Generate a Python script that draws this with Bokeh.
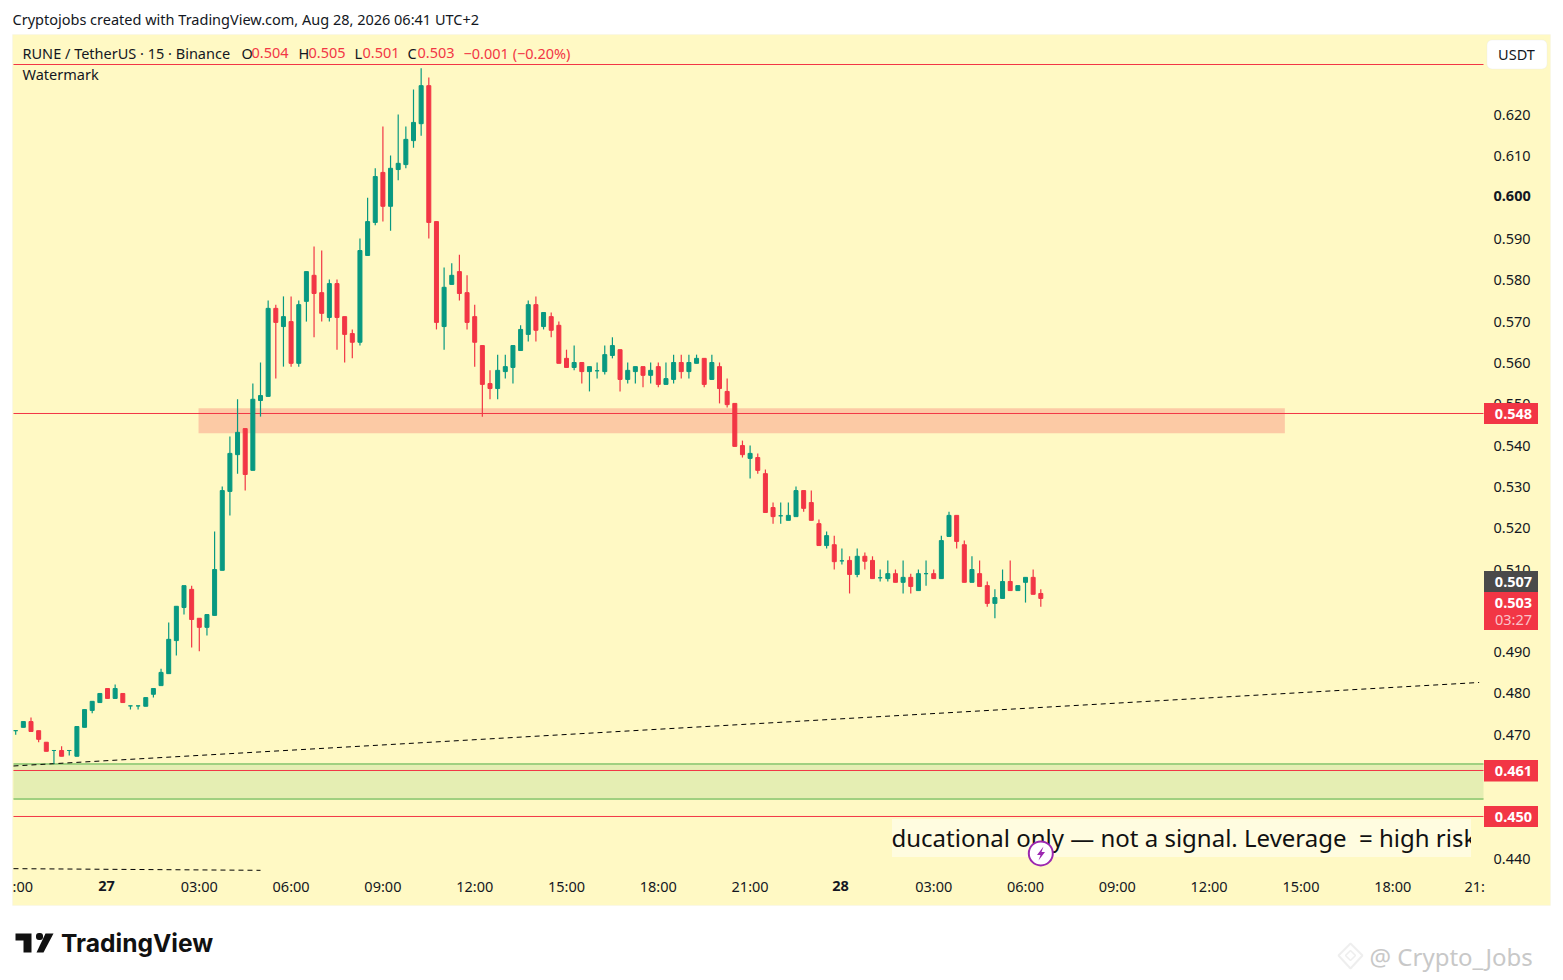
import numpy as np
from bokeh.plotting import figure
from bokeh.models import BoxAnnotation, Label, FixedTicker, Range1d, PolyAnnotation, LinearAxis
from bokeh.embed import file_html
from bokeh.resources import INLINE

first_bar = -12
opens = [471,471.8,473.2,471,468.2,466.2,466.2,466.2,464.8,471.8,
475.9,477.8,481.2,478.8,480,477,477,476.9,479.8,481.9,
484.8,492.8,500.8,505.2,498.2,496,498.9,509.8,528.9,537.8,
544.1,534,550.9,551.9,573.2,568.8,570,559.9,574.9,581.2,
577,571,579.2,571.2,567.1,565,586,594,606.1,597.9,
606.8,608,613.8,617.9,627.1,594.2,568.8,579,582.1,577,
571.2,564.2,555,553.8,557.9,558.9,563,566.9,574.1,568.8,
571.2,569.1,561.1,558.9,560.1,557.9,558.1,557.9,561.8,563.2,
556,557.9,559.1,557,559.1,554.8,556,560.1,557.9,559.9,
561.1,556,559.1,553.1,550.2,540,536.9,537.1,533.2,525,
523,521.9,522.8,529.1,526.2,521.1,515.8,516,512.1,512.2,
508.8,513.2,512.2,508,507.8,509,506.9,508.1,504.9,509,
509,507.8,518,523.1,516,506.9,509,506.1,501.8,503,
507.1,504.9,506.9,508.1,504.2]
closes = [471,473.2,470.8,468.9,466,466.2,464.8,466.2,472,476.1,
478.1,480,478.8,481.2,477.8,477,477,479,481.2,485.1,
493.1,501.1,506.1,497.9,496,499.1,510,529.1,538.1,543.2,
533,551.2,552.1,573.2,569.8,571.2,559.9,574.1,582.1,576.8,
572,579.2,571,566.9,565,587.2,594.2,605.1,597.9,607.1,
608.3,614.1,618.2,627.1,594,569.8,578.3,581.2,576.8,569.8,
565,554.8,553.8,558.2,559.1,564.2,568.1,574.1,567.9,572.2,
567.9,559.9,558.9,560.1,557.9,559.1,558.1,562,564.2,556,
558.2,559.1,557,558.2,554.8,556.2,560.1,557.9,560.1,561.1,
554.8,560.1,553.8,549.9,539.8,537.8,538.1,534,523.8,522.8,
523,523.1,529.1,524.8,521.9,515.8,518.2,511.9,512.1,508.8,
513.2,512,507.8,508,509,506.9,508.1,505.9,509,509,
507.8,517,523.1,516.8,506.9,510,505.9,501.8,503.2,507.1,
504.9,506.1,508.1,504,503]
highs = [471,473.2,474.2,471,468.2,466.2,467.2,466.2,472,476.1,
478.1,480,481.2,482.2,480,477,477,479,481.2,486,
497.2,501.1,506.1,506.1,498.2,499.1,519.2,530.1,542.2,551.2,
544.1,555,560.1,575.1,574.1,576.1,576.1,575.1,582.1,588.2,
587.2,580.2,580.2,571.2,568.1,590.1,600,607.1,617.2,610.2,
620.1,617.2,626.2,631.3,629.1,594.2,583.1,584.1,586.2,581.2,
574.1,564.2,558.2,562,562,564.2,569.1,575.1,576.1,572.2,
572.2,570,563.2,564.2,560.1,559.1,560.1,564.2,566.2,563.2,
560.1,559.1,559.1,560.1,560.1,560.1,562,562,562,562,
561.1,562,560.1,556.2,550.2,541.2,540,538.1,534.2,526.2,
526.2,526.2,530.1,529.1,529.1,522.1,519.2,518.2,515.1,513.2,
515.1,514.1,513.2,510,512.2,510,512.2,509,510,512.2,
510,518.2,524,523.1,517,513.2,512.2,507.1,505.2,510,
512.2,506.1,508.1,510,505.2]
lows = [470,471.8,470.8,468.2,466,463,464.8,465,464.8,471.8,
475.2,477.8,478.8,478.8,477.8,476.1,476.1,476.9,479,481.9,
484.8,489.2,499.1,491.1,490.2,494,498.9,509.8,523.1,533.2,
529.1,534,547,551.9,556.2,559.1,559.1,559.1,570,566.2,
570,570,563.2,560.1,561.1,564.2,586,593.3,594.2,592,
604.2,607.1,612.1,615,590.1,568.1,563.2,579,575.1,568.1,
559.1,547,551.2,551.2,556.2,555,563,565.2,565.2,568.1,
566.2,559.9,558.9,558.2,555,553.1,556.2,557.2,561.1,553.1,
555,555,554.1,555,554.1,554.8,555,556.2,556.2,559.9,
554.1,556,550.2,549.2,539.8,537.1,532,533.2,523.8,521.1,
521.1,521.9,522.8,524,521.9,515.8,515.1,510,511.2,504.2,
508.1,510,507.8,507.1,507.1,506.9,504.2,504.2,504.9,506.1,
507.8,507.8,518,515.1,506.9,506.9,505.9,501,498.2,503,
504.9,504.9,502,504,501]

price_ticks = [0.44,0.47,0.48,0.49,0.51,0.52,0.53,0.54,0.55,0.56,0.57,0.58,0.59,0.61,0.62]
price_tick_labels = ["0.440","0.470","0.480","0.490","0.510","0.520","0.530","0.540","0.550","0.560","0.570","0.580","0.590","0.610","0.620"]
time_ticks = [12,24,36,48,60,72,84,108,120,132,144,156,168]
time_tick_labels = ["03:00","06:00","09:00","12:00","15:00","18:00","21:00","03:00","06:00","09:00","12:00","15:00","18:00"]
level_prices = [0.63222,0.54776,0.46136,0.45023]
resistance_zone = (0.5430,0.5490)
resistance_bars = (11.9,153.9)
support_zone = (0.45446,0.46294)
trend_bars = [-12.29,179.3]
trend_prices = [0.46245,0.48266]
lower_bars = [-12.29,20.0]
lower_prices = [0.4376,0.4372]
event_bar = 122
event_price = 0.4413

FONT = "Noto Sans"
TICK_SIZE = 14.5
INK = "#131722"
UP = "#089981"
DOWN = "#F23645"
BG = "#FFF9C4"
W, H = 1555, 972
BAR_LEFT, BAR_RIGHT = -12.29, 179.87
AXIS_PRICE = 0.43595

def sy(y): return H - y

p = figure(width=W, height=H, output_backend="svg", toolbar_location=None,
           x_axis_type=None, y_axis_type=None,
           x_range=Range1d(-13.987, 189.28), y_range=Range1d(0.41247, 0.64771),
           min_border_left=0, min_border_right=0, min_border_top=0, min_border_bottom=0,
           background_fill_color="white", border_fill_color="white", outline_line_color=None)
p.grid.visible = False

def cbox(x0, y0, x1, y1, fill, line=None, level="annotation", radius=0):
    b = BoxAnnotation(left=x0-0.5, right=x1-0.5, top=y0-0.5, bottom=y1-0.5,
                      left_units="canvas", right_units="canvas", top_units="canvas", bottom_units="canvas",
                      fill_color=fill, fill_alpha=1.0, line_color=line, level=level, border_radius=radius,
                      editable=False)
    p.add_layout(b)
    return b

def lab(x, y, text, color=INK, size=TICK_SIZE, align="left", weight="normal", font=FONT, level="annotation"):
    l = Label(x=x-1, y=sy(y-1.5), x_units="screen", y_units="screen", text=text, text_color=color,
              text_font=font, text_font_size=f"{size}px", text_font_style=weight,
              text_align=align, text_baseline="middle", level=level)
    p.add_layout(l)
    return l

cbox(12.5, 34.5, 1550.5, 905.5, BG, line="#EFEFEF", level="underlay")

xpos = np.arange(first_bar, first_bar + len(opens))
o, h, l_, c = [np.array(a) / 1000 for a in (opens, highs, lows, closes)]
colors = [UP if u else DOWN for u in (c >= o)]

# zones
p.quad(left=[resistance_bars[0]], right=[resistance_bars[1]], bottom=[resistance_zone[0]], top=[resistance_zone[1]],
       fill_color="#FCCAA5", line_color=None)
p.quad(left=[BAR_LEFT], right=[BAR_RIGHT], bottom=[support_zone[0]], top=[support_zone[1]],
       fill_color="#E5EEB3", line_color=None)
p.segment(x0=[BAR_LEFT]*2, x1=[BAR_RIGHT]*2, y0=list(support_zone), y1=list(support_zone),
          line_color="#A0D080", line_width=2)

# levels
p.segment(x0=[BAR_LEFT]*4, x1=[BAR_RIGHT]*4, y0=level_prices, y1=level_prices, line_color=DOWN, line_width=1)

# trend lines
p.line(trend_bars, trend_prices, line_color="#000000", line_width=1, line_dash="5 4")
p.line(lower_bars, lower_prices, line_color="#000000", line_width=1, line_dash="5 4")

# candles
p.segment(x0=xpos, x1=xpos, y0=l_, y1=h, line_color=colors, line_width=1.2)
p.vbar(x=xpos, width=4/7.65, bottom=np.minimum(o, c), top=np.maximum(o, c), fill_color=colors, line_color=colors, line_width=1)

# axes, pinned to the edges of the chart pane
ya = LinearAxis(ticker=FixedTicker(ticks=price_ticks), fixed_location=BAR_RIGHT,
                major_label_overrides={t: s for t, s in zip(price_ticks, price_tick_labels)},
                axis_line_color=None, major_tick_line_color=None, minor_tick_line_color=None,
                major_label_text_font=FONT, major_label_text_font_size=f"{TICK_SIZE}px", major_label_text_color=INK,
                major_label_standoff=4)
p.add_layout(ya, "right")
xa = LinearAxis(ticker=FixedTicker(ticks=time_ticks), fixed_location=AXIS_PRICE,
                major_label_overrides={t: s for t, s in zip(time_ticks, time_tick_labels)},
                axis_line_color=None, major_tick_line_color=None, minor_tick_line_color=None,
                major_label_text_font=FONT, major_label_text_font_size=f"{TICK_SIZE}px", major_label_text_color=INK,
                major_label_standoff=-5)
p.add_layout(xa, "below")

lab(107, 887, "27", align="center", weight="bold")
lab(841, 887, "28", align="center", weight="bold")
lab(13, 887, ":00")
lab(1465, 887, "21:")
lab(1494, 197, "0.600", weight="bold")

# header
lab(13, 19.5, "Cryptojobs created with TradingView.com, Aug 28, 2026 06:41 UTC+2")
lab(23, 54, "RUNE / TetherUS · 15 · Binance")
for x, t, col in [(242,"O",INK),(252,"0.504",DOWN),(299,"H",INK),(309,"0.505",DOWN),(355,"L",INK),(363,"0.501",DOWN),
                  (408,"C",INK),(418,"0.503",DOWN),(464,"−0.001 (−0.20%)",DOWN)]:
    lab(x, 54, t, color=col)
lab(23, 75, "Watermark")

# USDT
cbox(1487, 40, 1547, 69, "white", line="#E0E3EB", radius=5)
lab(1517, 55, "USDT", align="center")

# price labels
for (y0, y1, fill, txt, ty) in [(403, 424, DOWN, "0.548", 414.5), (571, 592, "#4A4A4A", "0.507", 582.5),
                                (760, 781.5, DOWN, "0.461", 772), (806, 827, DOWN, "0.450", 818)]:
    cbox(1484, y0, 1538, y1, fill)
    lab(1514, ty, txt, color="white", align="center", weight="bold")
cbox(1484, 592, 1538, 630, DOWN)
lab(1514, 604, "0.503", color="white", align="center", weight="bold")
lab(1514, 620, "03:27", color="#FAC3C8", align="center")

# caption
cbox(892, 819, 1471, 857, "#FFFCE0")
lab(892, 838, "ducational only — not a signal. Leverage \u00a0= high risk", color="#111111", size=24)
cbox(1471, 819, 1483, 857, BG)

# event icon
p.scatter(x=[event_bar], y=[event_price], size=24, marker="circle", fill_color="white", line_color="#9C27B0", line_width=2, level="overlay")

def poly(xs, ys, fill=INK, line=None, width=1, level="annotation"):
    pa = PolyAnnotation(xs=list(xs), ys=[sy(v) for v in ys], xs_units="screen", ys_units="screen",
                        fill_color=fill, fill_alpha=1 if fill else 0, line_color=line, line_width=width,
                        editable=False, level=level)
    p.add_layout(pa)
poly([1043,1036.5,1040,1038,1044.5,1041],[846,854.5,854.5,860,851.5,851.5], fill="#9C27B0", level="overlay")

# logo
poly([15,31,31,23,23,15],[933,933,952,952,940,940], fill="#111111")
poly([45,53,43,36],[933,933,952,952], fill="#111111")
cbox(36, 933, 43, 940, "#111111", radius=3)
lab(61.5, 944, "TradingView", color="#111111", size=24.6, weight="bold", font="Inter")

# photo watermark
lab(1370, 957, "@ Crypto_Jobs", color="#C8C8C8", size=24)
poly([1350,1362,1350,1338],[943,955,968,955], fill=None, line="#C8C8C8", width=2)
poly([1350,1355,1350,1345],[950,955,960,955], fill=None, line="#C8C8C8", width=1.5)

open("out.html", "w").write(file_html(p, INLINE))
